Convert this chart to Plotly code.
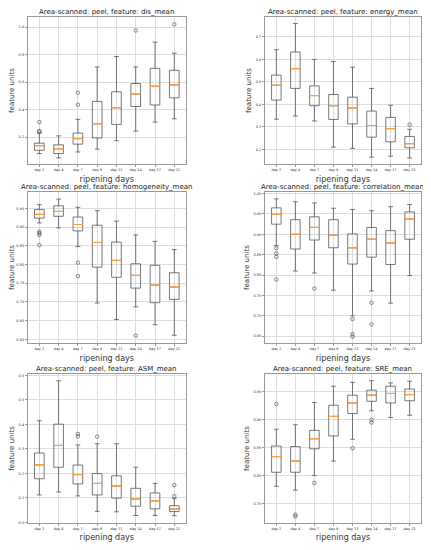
import plotly.graph_objects as go

days = ["day 2", "day 4", "day 7", "day 9", "day 11", "day 14", "day 17", "day 21"]
features = ["dis_mean", "energy_mean", "homogeneity_mean", "correlation_mean", "ASM_mean", "SRE_mean"]

# per feature: q1, median, q3, lower whisker, upper whisker, outliers
dis_q1 = [0.105, 0.082, 0.15, 0.195, 0.293, 0.423, 0.434, 0.486]
dis_med = [0.139, 0.116, 0.19, 0.298, 0.414, 0.514, 0.57, 0.58]
dis_q3 = [0.157, 0.145, 0.23, 0.46, 0.53, 0.59, 0.70, 0.686]
dis_lo = [0.082, 0.05, 0.093, 0.114, 0.175, 0.245, 0.31, 0.334]
dis_hi = [0.23, 0.21, 0.33, 0.71, 0.786, 0.71, 0.89, 0.81]
dis_out = [[0.24, 0.245, 0.31], [], [0.436, 0.523], [], [], [0.975], [], [1.02]]

en_q1 = [0.419, 0.471, 0.394, 0.333, 0.313, 0.254, 0.233, 0.207]
en_med = [0.485, 0.559, 0.439, 0.394, 0.383, 0.306, 0.292, 0.225]
en_q3 = [0.53, 0.633, 0.482, 0.444, 0.432, 0.37, 0.342, 0.257]
en_lo = [0.334, 0.348, 0.326, 0.21, 0.204, 0.165, 0.169, 0.161]
en_hi = [0.643, 0.76, 0.60, 0.591, 0.565, 0.471, 0.396, 0.289]
en_out = [[], [], [], [], [], [], [], [0.31]]

ho_q1 = [0.924, 0.929, 0.89, 0.793, 0.766, 0.737, 0.698, 0.707]
ho_med = [0.934, 0.942, 0.907, 0.859, 0.811, 0.771, 0.745, 0.74]
ho_q3 = [0.947, 0.957, 0.927, 0.905, 0.86, 0.802, 0.798, 0.778]
ho_lo = [0.911, 0.898, 0.848, 0.697, 0.653, 0.687, 0.639, 0.611]
ho_hi = [0.96, 0.975, 0.953, 0.944, 0.916, 0.879, 0.862, 0.84]
ho_out = [[0.888, 0.884, 0.879, 0.852], [], [0.805, 0.769], [], [], [0.61], [], []]

co_q1 = [0.925, 0.864, 0.886, 0.867, 0.827, 0.844, 0.826, 0.888]
co_med = [0.949, 0.90, 0.917, 0.898, 0.867, 0.888, 0.879, 0.938]
co_q3 = [0.965, 0.936, 0.943, 0.936, 0.901, 0.917, 0.909, 0.955]
co_lo = [0.872, 0.81, 0.805, 0.763, 0.70, 0.761, 0.731, 0.799]
co_hi = [0.987, 0.98, 0.977, 0.964, 0.961, 0.958, 0.968, 0.973]
co_out = [[0.866, 0.853, 0.845, 0.789], [], [0.767], [], [0.692, 0.655, 0.649], [0.732, 0.679], [], []]

asm_q1 = [0.178, 0.225, 0.157, 0.112, 0.099, 0.066, 0.055, 0.044]
asm_med = [0.235, 0.314, 0.195, 0.159, 0.148, 0.095, 0.088, 0.054]
asm_q3 = [0.283, 0.401, 0.234, 0.199, 0.19, 0.139, 0.12, 0.068]
asm_lo = [0.112, 0.124, 0.108, 0.045, 0.043, 0.028, 0.028, 0.027]
asm_hi = [0.415, 0.578, 0.316, 0.321, 0.321, 0.225, 0.159, 0.098]
asm_out = [[], [], [0.361, 0.351], [0.35], [], [], [], [0.152, 0.107]]

sre_q1 = [0.806, 0.806, 0.848, 0.871, 0.911, 0.933, 0.93, 0.934]
sre_med = [0.834, 0.826, 0.866, 0.906, 0.93, 0.944, 0.947, 0.945]
sre_q3 = [0.853, 0.852, 0.881, 0.926, 0.944, 0.953, 0.96, 0.955]
sre_lo = [0.781, 0.774, 0.80, 0.826, 0.865, 0.916, 0.904, 0.908]
sre_hi = [0.883, 0.891, 0.931, 0.96, 0.967, 0.97, 0.966, 0.969]
sre_out = [[0.928], [0.73, 0.727], [0.787], [], [0.849], [0.9, 0.895], [], []]

y_ticks = [
    [0.2, 0.4, 0.6, 0.8, 1.0],
    [0.2, 0.3, 0.4, 0.5, 0.6, 0.7],
    [0.60, 0.65, 0.70, 0.75, 0.80, 0.85, 0.90, 0.95],
    [0.65, 0.70, 0.75, 0.80, 0.85, 0.90, 0.95, 1.00],
    [0.0, 0.1, 0.2, 0.3, 0.4, 0.5, 0.6],
    [0.75, 0.80, 0.85, 0.90, 0.95],
]
y_fmt = [".1f", ".1f", ".2f", ".2f", ".1f", ".2f"]
y_ranges = [[0.005, 1.073], [0.134, 0.789], [0.59, 0.994], [0.633, 1.004], [-0.003, 0.606], [0.715, 0.982]]

stats = [
    (dis_q1, dis_med, dis_q3, dis_lo, dis_hi, dis_out),
    (en_q1, en_med, en_q3, en_lo, en_hi, en_out),
    (ho_q1, ho_med, ho_q3, ho_lo, ho_hi, ho_out),
    (co_q1, co_med, co_q3, co_lo, co_hi, co_out),
    (asm_q1, asm_med, asm_q3, asm_lo, asm_hi, asm_out),
    (sre_q1, sre_med, sre_q3, sre_lo, sre_hi, sre_out),
]

OFF = 8  # page body margin
W, H = 431 - 2 * OFF, 550 - 2 * OFF


def px_x(a, b):
    return [(a - OFF) / W, (b - OFF) / W]


def px_y(top, bottom):
    return [1 - (bottom - OFF) / H, 1 - (top - OFF) / H]


xdoms = [px_x(18, 180), px_x(261, 421)]
ydoms = [px_y(17, 165), px_y(193, 345), px_y(376, 526)]

fig = go.Figure()
annotations = []
layout = {}
for i, (q1, med, q3, lo, hi, out) in enumerate(stats):
    r, c = divmod(i, 2)
    n = "" if i == 0 else str(i + 1)
    xa, ya = "x" + n, "y" + n
    fig.add_trace(go.Box(x=days, q1=q1, median=med, q3=q3, lowerfence=lo, upperfence=hi,
                         xaxis=xa, yaxis=ya, fillcolor="rgba(0,0,0,0)",
                         line=dict(color="#555555", width=0.8), width=0.5, whiskerwidth=0.5,
                         boxpoints=False, hoverinfo="skip"))
    fig.add_trace(go.Box(x=days, q1=med, median=med, q3=med, lowerfence=med, upperfence=med,
                         xaxis=xa, yaxis=ya, fillcolor="rgba(0,0,0,0)",
                         line=dict(color="#ff9f40", width=0.8), width=0.5, whiskerwidth=0,
                         boxpoints=False, hoverinfo="skip"))
    ox, oy = [], []
    for d, vals in zip(days, out):
        for v in vals:
            ox.append(d)
            oy.append(v)
    fig.add_trace(go.Scatter(x=ox, y=oy, mode="markers", xaxis=xa, yaxis=ya,
                             marker=dict(symbol="circle-open", size=3.5, color="#555555",
                                         line=dict(width=0.7))))
    layout["xaxis" + n] = dict(domain=xdoms[c], anchor=ya, range=[-0.6, 7.6], showgrid=True,
                                gridcolor="#dddddd", type="category", categoryorder="array",
                                categoryarray=days,
                                gridwidth=0.5, tickfont=dict(size=3.5), showline=True, mirror=True,
                                linecolor="#999999", linewidth=0.8, ticks="outside", ticklen=2,
                                tickcolor="#999999",
                                title=dict(text="ripening days", font=dict(size=8), standoff=5))
    layout["yaxis" + n] = dict(domain=ydoms[r], anchor=xa, range=y_ranges[i], tickvals=y_ticks[i],
                                tickformat=y_fmt[i], showgrid=True, gridcolor="#dddddd", gridwidth=0.5,
                                zeroline=False, tickfont=dict(size=3.5), showline=True, mirror=True,
                                linecolor="#999999", linewidth=0.8, ticks="outside", ticklen=2,
                                tickcolor="#999999",
                                title=dict(text="feature units", font=dict(size=7), standoff=3))
    annotations.append(dict(text="Area-scanned: peel, feature: " + features[i], showarrow=False,
                            xref="paper", yref="paper", x=sum(xdoms[c]) / 2, y=ydoms[r][1],
                            xanchor="center", yanchor="bottom", yshift=-1,
                            font=dict(size=7, color="#222222")))

fig.update_layout(width=W, height=H, margin=dict(l=0, r=0, t=0, b=0), showlegend=False,
                  plot_bgcolor="white", paper_bgcolor="white", boxmode="overlay",
                  font=dict(family="DejaVu Sans", color="#333333"), annotations=annotations, **layout)
fig.write_html("out.html")
